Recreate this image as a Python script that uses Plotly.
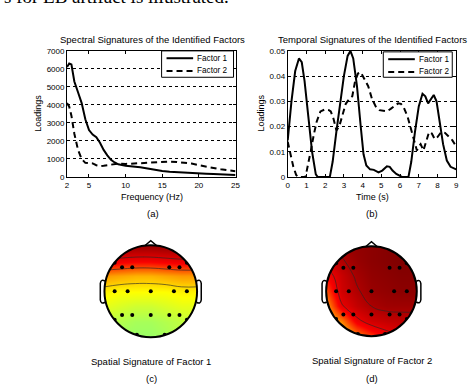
import plotly.graph_objects as go

W, H = 474, 390

# ---------------- data: (a) spectral signatures ----------------
freq = [2, 2.3, 2.6, 3, 3.5, 4, 4.5, 5, 5.5, 6, 6.5, 7, 7.5, 8, 8.5, 9, 10, 11, 12, 13,
        14, 15, 16, 17, 18, 19, 20, 21, 22, 23, 24, 25]
spec_f1 = [6100, 6300, 6250, 5300, 4700, 4100, 3200, 2600, 2350, 2200, 1900, 1500, 1200, 950,
           800, 700, 620, 600, 540, 470, 390, 330, 290, 260, 240, 220, 200, 180, 160, 140, 120, 100]
spec_f2 = [4100, 3900, 3400, 2400, 1500, 1000, 780, 760, 750, 650, 600, 620, 650, 700, 720,
           740, 720, 740, 780, 820, 840, 860, 850, 830, 790, 740, 650, 560, 480, 420, 370, 320]
freq_ticks = [2, 5, 10, 15, 20, 25]

# ---------------- data: (b) temporal signatures ----------------
time_f1 = [0.0, 0.2, 0.4, 0.6, 0.75, 0.9, 1.1, 1.3, 1.5, 1.6, 2.25, 2.4, 2.6, 2.8, 3.0, 3.2,
           3.35, 3.5, 3.7, 3.9, 4.05, 4.2, 4.4, 4.6, 4.85, 5.05, 5.3, 5.45, 5.6, 5.8, 6.0,
           6.1, 6.45, 6.6, 6.8, 7.0, 7.2, 7.35, 7.5, 7.65, 7.8, 7.95, 8.1, 8.3, 8.5, 8.7, 9.0]
temp_f1 = [0.0145, 0.030, 0.042, 0.047, 0.0455, 0.038, 0.024, 0.010, 0.001, 0.0, 0.0, 0.006,
           0.018, 0.030, 0.040, 0.048, 0.050, 0.047, 0.036, 0.020, 0.009, 0.0045, 0.003, 0.0028,
           0.0018, 0.0025, 0.0042, 0.0040, 0.0025, 0.0012, 0.0002, 0.0, 0.0, 0.006, 0.018,
           0.028, 0.033, 0.032, 0.0292, 0.031, 0.0325, 0.030, 0.022, 0.013, 0.0065, 0.004, 0.003]
time_f2 = [0.0, 0.15, 0.3, 0.45, 0.55, 0.95, 1.1, 1.25, 1.4, 1.55, 1.75, 2.0, 2.2, 2.3, 2.45,
           2.6, 2.75, 2.9, 3.1, 3.3, 3.45, 3.6, 3.75, 3.9, 4.1, 4.3, 4.5, 4.7, 4.9, 5.1, 5.3,
           5.5, 5.7, 5.9, 6.05, 6.2, 6.4, 6.6, 6.8, 6.9, 7.0, 7.1, 7.25, 7.4, 7.55, 7.7, 7.85,
           8.0, 8.2, 8.4, 8.6, 8.8, 9.0]
temp_f2 = [0.014, 0.009, 0.004, 0.0008, 0.0, 0.0, 0.005, 0.011, 0.017, 0.022, 0.026, 0.0268,
           0.0265, 0.026, 0.023, 0.0185, 0.020, 0.024, 0.029, 0.031, 0.032, 0.038, 0.041, 0.0415,
           0.039, 0.036, 0.031, 0.028, 0.0265, 0.0262, 0.026, 0.027, 0.0282, 0.0292, 0.029,
           0.0275, 0.024, 0.019, 0.013, 0.0105, 0.012, 0.013, 0.0105, 0.014, 0.0178, 0.0172,
           0.0150, 0.0158, 0.0178, 0.0175, 0.016, 0.0145, 0.012]

# ---------------- data: (c)/(d) spatial signatures (coarse scalp grid) ----------------
grid = [-1, -0.667, -0.333, 0, 0.333, 0.667, 1]
spatial_f1 = [  # rows from back (bottom) to front (top)
    [0.53, 0.52, 0.52, 0.52, 0.53, 0.55, 0.58],
    [0.55, 0.54, 0.53, 0.53, 0.54, 0.55, 0.57],
    [0.58, 0.57, 0.56, 0.56, 0.57, 0.58, 0.58],
    [0.61, 0.60, 0.60, 0.60, 0.60, 0.61, 0.61],
    [0.68, 0.67, 0.66, 0.66, 0.67, 0.68, 0.68],
    [0.83, 0.82, 0.81, 0.81, 0.82, 0.83, 0.83],
    [0.98, 0.97, 0.96, 0.96, 0.97, 0.98, 0.98],
]
spatial_f2 = [
    [0.58, 0.62, 0.70, 0.76, 0.81, 0.84, 0.85],
    [0.64, 0.70, 0.82, 0.87, 0.89, 0.90, 0.90],
    [0.68, 0.83, 0.89, 0.93, 0.95, 0.95, 0.95],
    [0.74, 0.87, 0.92, 0.96, 0.97, 0.98, 0.98],
    [0.80, 0.88, 0.94, 0.97, 0.98, 0.99, 0.99],
    [0.86, 0.92, 0.96, 0.98, 0.99, 1.00, 1.00],
    [0.88, 0.95, 0.97, 0.98, 0.99, 1.00, 1.00],
]
elec_x = [-0.62, -0.40, 0.40, 0.62, -0.78, 0.78, -0.78, -0.50, 0.0, 0.50, 0.78,
          -0.62, -0.40, 0.0, 0.40, 0.62, -0.78, 0.78, -0.30, 0.30]
elec_y = [0.52, 0.52, 0.52, 0.52, 0.62, 0.62, 0.0, 0.0, 0.0, 0.0, 0.0,
          -0.52, -0.52, -0.52, -0.52, -0.52, -0.62, -0.62, -0.95, -0.95]
legend_names = ["Factor 1", "Factor 2"]

FONT = "Liberation Sans, Arial, sans-serif"


def px(x):
    return x / W


def py(y):
    return 1 - y / H


fig = go.Figure()

# (a)
fig.add_trace(go.Scatter(x=freq, y=spec_f1, mode="lines", name=legend_names[0],
                         line=dict(color="black", width=2), xaxis="x", yaxis="y"))
fig.add_trace(go.Scatter(x=freq, y=spec_f2, mode="lines", name=legend_names[1],
                         line=dict(color="black", width=2, dash="6px,4px"), xaxis="x", yaxis="y"))
# (b)
fig.add_trace(go.Scatter(x=time_f1, y=temp_f1, mode="lines", name=legend_names[0],
                         line=dict(color="black", width=2), xaxis="x2", yaxis="y2"))
fig.add_trace(go.Scatter(x=time_f2, y=temp_f2, mode="lines", name=legend_names[1],
                         line=dict(color="black", width=2, dash="6px,4px"), xaxis="x2", yaxis="y2"))

# heads
for z, xa, ya, lv in [(spatial_f1, "x3", "y3", (0.63, 0.85, 0.107)),
                      (spatial_f2, "x4", "y4", (0.84, 0.93, 0.09))]:
    fig.add_trace(go.Heatmap(z=z, x=grid, y=grid, colorscale="Jet", zmin=0, zmax=1,
                             zsmooth="best", showscale=False, xaxis=xa, yaxis=ya,
                             hoverinfo="skip"))
    fig.add_trace(go.Contour(z=z, x=grid, y=grid, showscale=False, xaxis=xa, yaxis=ya,
                             contours=dict(coloring="none", start=lv[0], end=lv[1], size=lv[2]),
                             line=dict(color="rgba(40,40,40,0.8)", width=0.8, smoothing=1.3),
                             hoverinfo="skip", showlegend=False))
    fig.add_trace(go.Scatter(x=elec_x, y=elec_y, mode="markers", xaxis=xa, yaxis=ya,
                             marker=dict(color="black", size=4), showlegend=False,
                             hoverinfo="skip"))

axis_common = dict(showline=True, linecolor="black", linewidth=1, mirror="ticks",
                   ticks="inside", ticklen=3, tickcolor="black", zeroline=False,
                   tickfont=dict(size=8, color="black", family=FONT), fixedrange=True)

# (a) axes: x 66..237 px, y 48..177 px ; (b) axes: x 290..461 px
fig.update_layout(
    xaxis=dict(domain=[px(66), px(237)], range=[2, 25], tickvals=freq_ticks,
               showgrid=False, anchor="y", **axis_common),
    yaxis=dict(domain=[py(177), py(48)], range=[0, 7000], dtick=1000, tickformat="d",
               showgrid=True, gridcolor="black", griddash="dot", gridwidth=1,
               anchor="x", **axis_common),
    xaxis2=dict(domain=[px(290), px(461)], range=[0, 9], dtick=1,
                showgrid=False, anchor="y2", **axis_common),
    yaxis2=dict(domain=[py(177), py(48)], range=[0, 0.05], dtick=0.01,
                showgrid=True, gridcolor="black", griddash="dot", gridwidth=1,
                anchor="x2", **axis_common),
)

# head axes
hc_cx, hc_cy, hc_r = 151, 294, 47
hd_cx, hd_cy, hd_r = 375, 294, 46
half = 60
fig.update_layout(
    xaxis3=dict(domain=[px(hc_cx - half), px(hc_cx + half)], range=[-half / hc_r, half / hc_r],
                visible=False, anchor="y3", fixedrange=True),
    yaxis3=dict(domain=[py(hc_cy + half), py(hc_cy - half)], range=[-half / hc_r, half / hc_r],
                visible=False, anchor="x3", fixedrange=True),
    xaxis4=dict(domain=[px(hd_cx - half), px(hd_cx + half)], range=[-half / hd_r, half / hd_r],
                visible=False, anchor="y4", fixedrange=True),
    yaxis4=dict(domain=[py(hd_cy + half), py(hd_cy - half)], range=[-half / hd_r, half / hd_r],
                visible=False, anchor="x4", fixedrange=True),
)

k = 0.5523
circle_path = (f"M 1,0 C 1,{k} {k},1 0,1 C -{k},1 -1,{k} -1,0 "
               f"C -1,-{k} -{k},-1 0,-1 C {k},-1 1,-{k} 1,0 Z")
mask_path = "M -1.6,-1.6 L 1.6,-1.6 L 1.6,1.6 L -1.6,1.6 Z " + circle_path
shapes = []
for xa, ya in [("x3", "y3"), ("x4", "y4")]:
    shapes.append(dict(type="path", path=mask_path, xref=xa, yref=ya, fillcolor="white",
                       fillrule="evenodd", line=dict(width=0), layer="above"))
    shapes.append(dict(type="path", path=circle_path, xref=xa, yref=ya,
                       line=dict(color="black", width=2), layer="above"))
    shapes.append(dict(type="path", path="M -0.13,0.99 L 0,1.1 L 0.13,0.99", xref=xa, yref=ya,
                       line=dict(color="black", width=1.5), layer="above"))
    for s in (-1, 1):
        ear = (f"M {s*0.985},0.22 C {s*1.04},0.25 {s*1.08},0.25 {s*1.09},0.17 "
               f"L {s*1.09},-0.19 C {s*1.08},-0.27 {s*1.04},-0.27 {s*0.985},-0.24")
        shapes.append(dict(type="path", path=ear, xref=xa, yref=ya,
                           line=dict(color="black", width=1.5), layer="above"))


def ann(text, x, y, size=9.5, angle=0, family=FONT, xanchor="center"):
    return dict(text=text, x=px(x), y=py(y), xref="paper", yref="paper", showarrow=False,
                xanchor=xanchor, yanchor="middle", textangle=angle,
                font=dict(size=size, color="black", family=family))


annotations = []
# legend boxes (drawn like MATLAB legends)
for (bx0, bx1, by0, by1) in [(162, 235, 48, 75), (387, 457, 49, 75)]:
    shapes.append(dict(type="rect", xref="paper", yref="paper", x0=px(bx0), x1=px(bx1),
                       y0=py(by1), y1=py(by0), fillcolor="white",
                       line=dict(color="black", width=1), layer="above"))
    for i, (name, dash) in enumerate(zip(legend_names, ["solid", "6px,4px"])):
        ly = by0 + 7.5 + i * 13
        shapes.append(dict(type="line", xref="paper", yref="paper", x0=px(bx0 + 5),
                           x1=px(bx0 + 32), y0=py(ly), y1=py(ly),
                           line=dict(color="black", width=2, dash=dash), layer="above"))
        annotations.append(ann(name, bx0 + 34, ly, size=8.2, xanchor="left"))
fig.update_layout(shapes=shapes)

annotations += [
    ann("Spectral Signatures of the Identified Factors", 153, 36),
    ann("Temporal Signatures of the Identified Factors", 376, 36),
    ann("Frequency (Hz)", 152, 198, size=9),
    ann("Time (s)", 376, 198, size=9),
    ann("Loadings", 37, 112, size=9, angle=-90),
    ann("Loadings", 263, 112, size=9, angle=-90),
    ann("(a)", 153, 214),
    ann("(b)", 376, 214),
    ann("Spatial Signature of Factor 1", 151, 366),
    ann("Spatial Signature of Factor 2", 376, 365),
    ann("(c)", 152, 383),
    ann("(d)", 376, 383),
    dict(text="s for EB artifact is illustrated.", x=0, y=py(-8), xref="paper", yref="paper",
         showarrow=False, xanchor="left", yanchor="middle",
         font=dict(size=19, color="black", family="Liberation Serif, serif")),
]
fig.update_layout(annotations=annotations)

fig.update_layout(width=W, height=H, margin=dict(l=0, r=0, t=0, b=0),
                  paper_bgcolor="white", plot_bgcolor="white",
                  font=dict(family=FONT, color="black"), showlegend=False)

fig.write_html("out.html", config={"displayModeBar": False},
               post_script="document.body.style.margin='0';document.body.style.overflow='hidden';")
